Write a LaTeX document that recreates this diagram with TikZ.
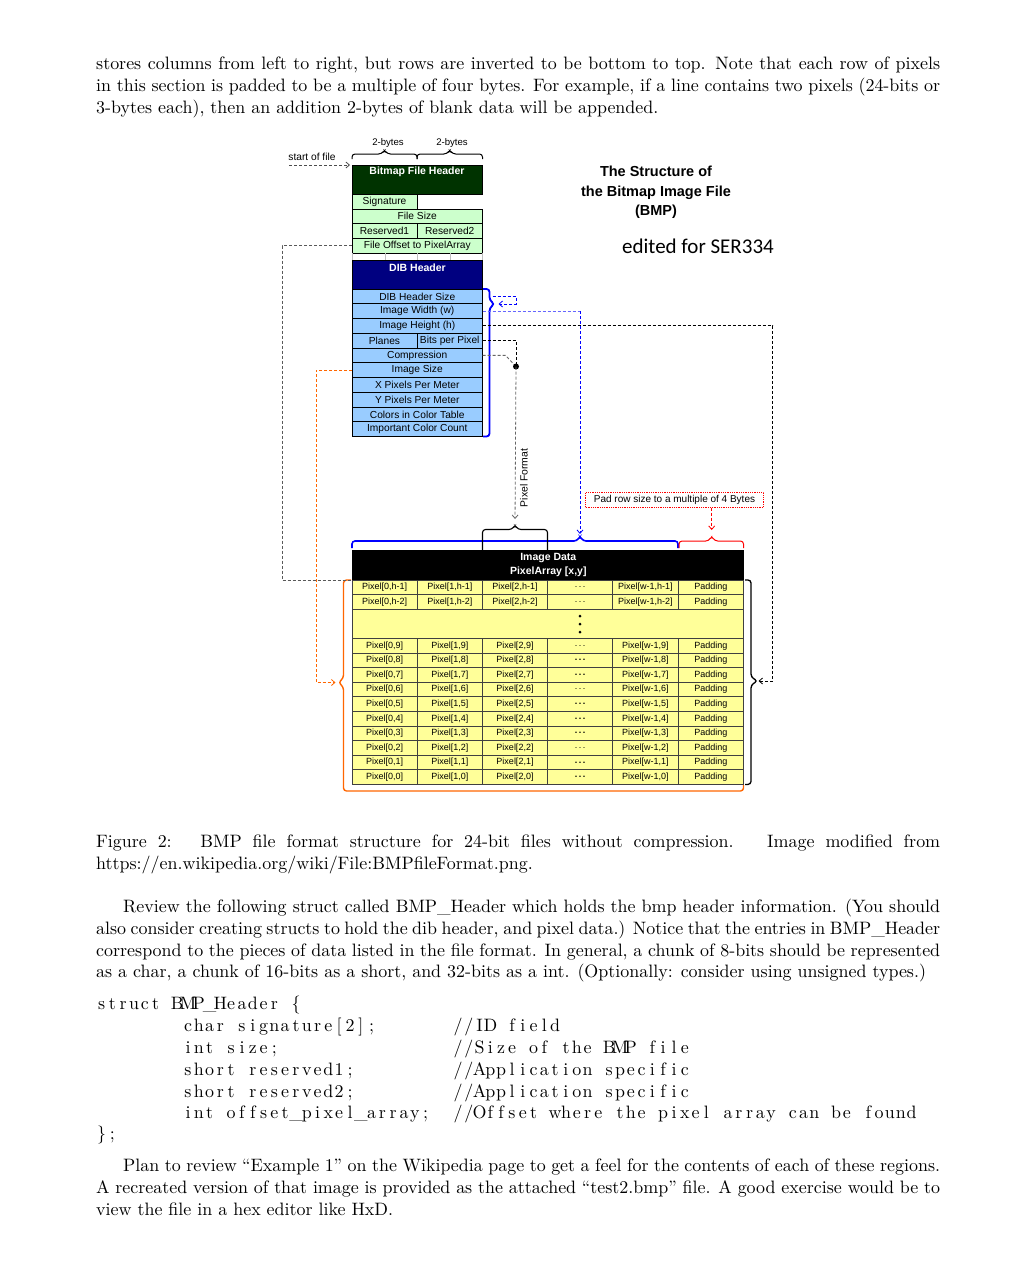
\documentclass[tikz,border=0pt]{standalone}
\usepackage{fontspec}
\setmainfont{lmroman10-regular.otf}[BoldFont=lmroman10-bold.otf, ItalicFont=lmroman10-italic.otf, Ligatures=TeX]
\newfontfamily\arial{Liberation Sans}
\newfontfamily\calibri{Carlito}
\usetikzlibrary{arrows.meta,calc}
\newcommand\bodysize{\fontsize{17.95}{21.8}\selectfont}
\ExplSyntaxOn
\NewDocumentCommand\fixcols{m}{\tl_map_inline:nn {#1} {\makebox[10.8pt][c]{##1}}}
\ExplSyntaxOff
\definecolor{hdrgreen}{RGB}{0,51,0}
\definecolor{lgreen}{RGB}{204,255,204}
\definecolor{navy}{RGB}{0,0,128}
\definecolor{lblue}{RGB}{153,204,255}
\definecolor{lyellow}{RGB}{255,255,153}
\definecolor{orng}{RGB}{255,102,0}
\definecolor{pblue}{RGB}{102,102,255}
\newcommand\cellbox[7]{\node[#6, minimum width={(#4-#2)*1pt}, minimum height={(#5-#3)*1pt}] (#1) at (#2,#3) {#7};}
\tikzset{
  bodytext/.style={anchor=base west, inner sep=0pt, font=\bodysize},
  cellbase/.style={draw=black, line width=0.8pt, inner sep=0pt, outer sep=0pt, anchor=north west},
  greenrow/.style={cellbase, fill=lgreen, font=\arial\fontsize{10.2}{11}\selectfont},
  bluerow/.style={cellbase, fill=lblue, font=\arial\fontsize{10.2}{11}\selectfont},
  pixrow/.style={cellbase, draw=black!75, fill=lyellow, font=\arial\fontsize{9}{10}\selectfont},
  whitetitle/.style={text=white, font=\arial\bfseries\fontsize{10.5}{12}\selectfont, inner sep=0pt},
  smalllab/.style={font=\arial\fontsize{10.2}{11}\selectfont, inner sep=0pt},
  dsh/.style={dash pattern=on 3pt off 2pt, line width=0.8pt},
  arrowtip/.style={-{Straight Barb[length=3.5pt,width=6pt]}},
  bracepath/.style={rounded corners=3pt, line width=1pt}
}
\begin{document}
\begin{tikzpicture}[x=1pt,y=-1pt]
\useasboundingbox (0,0) rectangle (1022,1264);
\fill[white] (0,0) rectangle (1022,1264);

% ---------------- body text ----------------
\node[bodytext] (t1) at (96,69) {\makebox[844pt][s]{stores columns from left to right, but rows are inverted to be bottom to top. Note that each row of pixels}};
\node[bodytext] (t2) at (96,91) {\makebox[844pt][s]{in this section is padded to be a multiple of four bytes. For example, if a line contains two pixels (24-bits or}};
\node[bodytext] (t3) at (96,113) {3-bytes each), then an addition 2-bytes of blank data will be appended.};

\node[bodytext] (cap1) at (96,847) {\makebox[844pt][s]{Figure 2: \ BMP file format structure for 24-bit files without compression. \ Image modified from}};
\node[bodytext] (cap2) at (96,869) {https://en.wikipedia.org/wiki/File:BMPfileFormat.png.};

\node[bodytext] (r1) at (123,912) {\makebox[817pt][s]{Review the following struct called BMP\_Header which holds the bmp header information. (You should}};
\node[bodytext] (r2) at (96,934) {\makebox[844pt][s]{also consider creating structs to hold the dib header, and pixel data.) Notice that the entries in BMP\_Header}};
\node[bodytext] (r3) at (96,956) {\makebox[844pt][s]{correspond to the pieces of data listed in the file format. In general, a chunk of 8-bits should be represented}};
\node[bodytext] (r4) at (96,977) {as a char, a chunk of 16-bits as a short, and 32-bits as a int. (Optionally: consider using unsigned types.)};

\node[bodytext] (c1) at (96,1009) {\fixcols{struct~BMP\_Header~\{}};
\node[bodytext] (c2) at (182.4,1031) {\fixcols{char~signature[2];}};
\node[bodytext] (c2b) at (452.4,1031) {\fixcols{//ID~field}};
\node[bodytext] (c3) at (182.4,1053) {\fixcols{int~size;}};
\node[bodytext] (c3b) at (452.4,1053) {\fixcols{//Size~of~the~BMP~file}};
\node[bodytext] (c4) at (182.4,1075) {\fixcols{short~reserved1;}};
\node[bodytext] (c4b) at (452.4,1075) {\fixcols{//Application~specific}};
\node[bodytext] (c5) at (182.4,1097) {\fixcols{short~reserved2;}};
\node[bodytext] (c5b) at (452.4,1097) {\fixcols{//Application~specific}};
\node[bodytext] (c6) at (182.4,1118) {\fixcols{int~offset\_pixel\_array;}};
\node[bodytext] (c6b) at (452.4,1118) {\fixcols{//Offset~where~the~pixel~array~can~be~found}};
\node[bodytext] (c7) at (96,1139) {\fixcols{\};}};

\node[bodytext] (f1) at (123,1171) {\makebox[817pt][s]{Plan to review ``Example 1'' on the Wikipedia page to get a feel for the contents of each of these regions.}};
\node[bodytext] (f2) at (96,1193) {\makebox[844pt][s]{A recreated version of that image is provided as the attached ``test2.bmp'' file. A good exercise would be to}};
\node[bodytext] (f3) at (96,1215) {view the file in a hex editor like HxD.};

% ---------------- title ----------------
\node[font=\arial\bfseries\fontsize{14.5}{19.5}\selectfont, align=center, inner sep=0pt] (title) at (656,192.5) {The Structure of\\the Bitmap Image File\\(BMP)};
\node[font=\calibri\fontsize{21}{24}\selectfont, inner sep=0pt] (edited) at (698,246) {edited for SER334};

% ---------------- bitmap file header ----------------
\cellbox{bfh}{352}{165}{482.5}{194}{cellbase, fill=hdrgreen}{}
\node[whitetitle] (bfhT) at (417,172) {Bitmap File Header};
\cellbox{sig}{352}{194}{417}{209}{greenrow}{Signature}
\cellbox{fsize}{352}{209}{482.5}{223.5}{greenrow}{File Size}
\cellbox{res1}{352}{223.5}{417}{238}{greenrow}{Reserved1}
\cellbox{res2}{417}{223.5}{482.5}{238}{greenrow}{Reserved2}
\cellbox{foff}{352}{238}{482.5}{253}{greenrow}{File Offset to PixelArray}
\foreach \gx in {352,385,417,450,482.5} \draw[black!25, line width=0.6pt] (\gx,253) -- (\gx,260);

% byte braces
\coordinate (bA) at (384.5,150);
\coordinate (bB) at (449.75,150);
\draw[bracepath] (352,159) -- (352,154) -- (381.5,154) -- (bA) -- (387.5,154) -- (417,154) -- (417,159);
\draw[bracepath] (417,159) -- (417,154) -- (446.75,154) -- (bB) -- (452.75,154) -- (482.5,154) -- (482.5,159);
\node[smalllab, font=\arial\fontsize{9.6}{11}\selectfont] (by1) at (388,143) {2-bytes};
\node[smalllab, font=\arial\fontsize{9.6}{11}\selectfont] (by2) at (452,143) {2-bytes};

% start of file
\node[smalllab] (sof) at (312,157) {start of file};
\coordinate (sofs) at (289,165);
\draw[dsh, arrowtip, black!70, shorten >=2pt] (sofs) -- (bfh.north west);

% ---------------- DIB header ----------------
\cellbox{dib}{352}{260}{482.5}{289}{cellbase, fill=navy}{}
\node[whitetitle] (dibT) at (417.5,268) {DIB Header};
\cellbox{dsz}{352}{289}{482.5}{303.75}{bluerow}{DIB Header Size}
\cellbox{dw}{352}{303.75}{482.5}{318.5}{bluerow}{Image Width (w)}
\cellbox{dh}{352}{318.5}{482.5}{333.25}{bluerow}{Image Height (h)}
\cellbox{planes}{352}{333.25}{417}{348}{bluerow}{Planes}
\cellbox{bpp}{417}{333.25}{482.5}{348}{bluerow}{Bits per Pixel}
\cellbox{comp}{352}{348}{482.5}{362.75}{bluerow}{Compression}
\cellbox{isz}{352}{362.75}{482.5}{377.5}{bluerow}{Image Size}
\cellbox{xppm}{352}{377.5}{482.5}{392.25}{bluerow}{X Pixels Per Meter}
\cellbox{yppm}{352}{392.25}{482.5}{407}{bluerow}{Y Pixels Per Meter}
\cellbox{cct}{352}{407}{482.5}{421.75}{bluerow}{Colors in Color Table}
\cellbox{icc}{352}{421.75}{482.5}{436.5}{bluerow}{Important Color Count}

% DIB brace
\coordinate (dibtip) at (494.5,304);
\draw[bracepath, blue, line width=1.8pt] (483,289) -- (489.5,289) -- (489.5,300) -- (dibtip) -- (489.5,308) -- (489.5,436.5) -- (483,436.5);

% ---------------- image data ----------------
\cellbox{img}{352}{550}{743.5}{580}{cellbase, fill=black}{}
\node[whitetitle] (imgT1) at (548.3,557.5) {Image Data};
\node[whitetitle] (imgT2) at (548.3,572) {PixelArray [x,y]};

\foreach \r/\yt/\lb/\bd in {a/580/h-1/0, b/594.6/h-2/0, 9/638.4/9/0, 8/653/8/1, 7/667.6/7/1, 6/682.2/6/0, 5/696.8/5/1, 4/711.4/4/1, 3/726/3/1, 2/740.6/2/0, 1/755.2/1/1, 0/769.8/0/1} {
  \pgfmathsetmacro\yb{\yt+14.6}
  \foreach \c/\xa/\xb in {0/352/417.3, 1/417.3/482.5, 2/482.5/547.5, 3/547.5/612.5, 4/612.5/678.3, 5/678.3/743.5} {
    \cellbox{px-\c-\r}{\xa}{\yt}{\xb}{\yb}{pixrow}{\ifcase\c Pixel[0,\lb]\or Pixel[1,\lb]\or Pixel[2,\lb]\or \ifnum\bd=1 \textbf{.\,.\,.}\else .\,.\,.\fi\or Pixel[w-1,\lb]\or Padding\fi}
  }
}
\cellbox{pxdots}{352}{609.2}{743.5}{638.4}{pixrow}{}
\foreach \dy in {616,624,632} \fill (580,\dy) circle (1.5pt);

% braces over image data
\coordinate (bluetip) at (580,536);
\draw[bracepath, blue, line width=1.6pt] (352,548) -- (352,541) -- (577,541) -- (bluetip) -- (583,541) -- (678,541) -- (678,548);
\coordinate (redtip) at (711.7,536);
\draw[bracepath, red] (679,548) -- (679,541) -- (708.7,541) -- (redtip) -- (714.7,541) -- (743.5,541) -- (743.5,548);
\coordinate (pftip) at (515,525);
\draw[bracepath, line width=1.1pt] (482.5,550) -- (482.5,529.5) -- (512,529.5) -- (pftip) -- (518,529.5) -- (547.5,529.5) -- (547.5,550);

% right brace
\coordinate (rbtip) at (757.5,681);
\draw[bracepath, line width=1.3pt] (745,580) -- (751,580) -- (751,677) -- (rbtip) -- (751,685) -- (751,784.4) -- (745,784.4);

% orange brace
\coordinate (otip) at (338.5,682.5);
\draw[bracepath, orng, line width=1.4pt] (351,580) -- (343.5,580) -- (343.5,678) -- (otip) -- (343.5,687) -- (343.5,791) -- (743.5,791) -- (743.5,785);

% ---------------- connectors ----------------
\coordinate (dot) at (516,366.5);
\draw[dsh, blue, arrowtip] ($(dsz.east)+(10,0)$) -| ($(dibtip)+(21.5,0)$) -- ($(dibtip)+(4,0)$);
\draw[dsh, pblue] (dw.east) -- (dw.east -| bluetip);
\draw[dsh, blue, arrowtip, shorten >=2pt] (dw.east -| bluetip) -- (bluetip);
\draw[dsh, black] (dh.east) -| ($(rbtip)+(15,0)$);
\draw[dsh, black, arrowtip, shorten >=1pt] ($(rbtip)+(15,0)$) -- (rbtip);
\draw[dsh, black] (bpp.east) -| (dot);
\draw[dsh, black!60] (comp.east) -- ++(23,0) -- (dot);
\fill (dot) circle (3pt);
\draw[dsh, black!60, arrowtip, shorten >=6pt] (dot) -- (pftip);
\node[smalllab, rotate=90, font=\arial\fontsize{10.4}{11}\selectfont] (pf) at (524,478) {Pixel Format};
\draw[dsh, orng, arrowtip] (isz.west) -| ($(otip)+(-22.5,0)$) -- ($(otip)+(-3,0)$);
\draw[dsh, black!65] (foff.west) -| ($(px-0-a.north west)+(-70,0)$) -- (px-0-a.north west);

% pad box
\node[draw=red, densely dotted, line width=0.8pt, minimum width=177.6pt, minimum height=15pt, inner sep=0pt, font=\arial\fontsize{10}{11}\selectfont] (padbox) at (674.5,499.8) {Pad row size to a multiple of 4 Bytes};
\draw[dsh, red, arrowtip, shorten >=6pt] (padbox.south -| redtip) -- (redtip);
\end{tikzpicture}
\end{document}
